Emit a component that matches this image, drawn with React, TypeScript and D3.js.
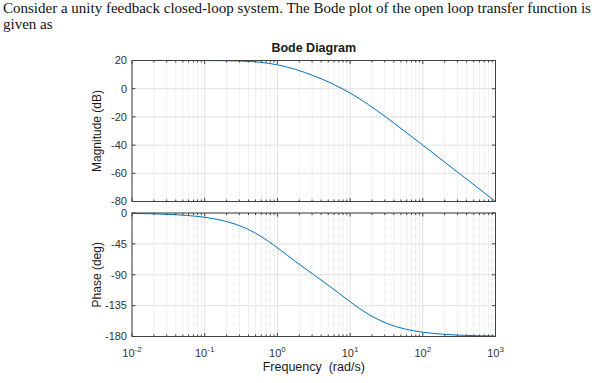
import React from "react";
import * as d3 from "d3";

const introLines = [
  "Consider a unity feedback closed-loop system. The Bode plot of the open loop transfer function is",
  "given as",
];
const title = "Bode Diagram";
const xLabel = "Frequency  (rad/s)";
const magLabel = "Magnitude (dB)";
const phaseLabel = "Phase (deg)";

const freq = [0.01, 0.01778, 0.03162, 0.05623, 0.1, 0.1778, 0.3162, 0.5623, 1, 1.778, 3.162, 5.623, 10, 17.78, 31.62, 56.23, 100, 177.8, 316.2, 562.3, 1000];
const magDb = [20.0, 20.0, 20.0, 19.99, 19.96, 19.86, 19.58, 18.79, 16.95, 13.67, 9.17, 3.67, -3.05, -11.21, -20.42, -30.14, -40.04, -50.01, -60.0, -70.0, -80.0];
const phaseDeg = [-0.63, -1.12, -1.99, -3.54, -6.28, -11.1, -19.36, -32.57, -50.71, -70.73, -90.0, -109.27, -129.29, -147.43, -160.64, -168.9, -173.72, -176.46, -178.01, -178.88, -179.37];

const magTicks = [20, 0, -20, -40, -60, -80];
const phaseTicks = [0, -45, -90, -135, -180];
const decadeExps = [-2, -1, 0, 1, 2, 3];

const W = 605, H = 383;
const X0 = 132, X1 = 495.5;
const MAG_T = 60.5, MAG_B = 201.5;
const PH_T = 213, PH_B = 336.5;

const x = d3.scaleLog().domain([0.01, 1000]).range([X0, X1]);
const yMag = d3.scaleLinear().domain([-80, 20]).range([MAG_B, MAG_T]);
const yPh = d3.scaleLinear().domain([-180, 0]).range([PH_B, PH_T]);

const minorFreqs: number[] = [];
decadeExps.slice(0, -1).forEach((e) => {
  for (let k = 2; k <= 9; k++) minorFreqs.push(k * Math.pow(10, e));
});

const BLUE = "#0072BD";
const AX = "#404040";
const GRID = "#e0e0e0";
const TXT = "#333333";
const sans = "'Liberation Sans', Arial, sans-serif";

function Panel({ y, ticks, top, bottom, values, showX }: any) {
  const line = d3
    .line<number>()
    .x((_, i) => x(freq[i]))
    .y((v) => y(v))
    .curve(d3.curveMonotoneX);
  const tl = 3.5;
  const tlMinor = 2;
  return (
    <g>
      {minorFreqs.map((f, i) => (
        <line key={"mg" + i} x1={x(f)} x2={x(f)} y1={top} y2={bottom} stroke={GRID} strokeDasharray="1,1" strokeWidth={1} />
      ))}
      {decadeExps.map((e) => (
        <line key={"dg" + e} x1={x(Math.pow(10, e))} x2={x(Math.pow(10, e))} y1={top} y2={bottom} stroke={GRID} strokeWidth={1} />
      ))}
      {ticks.map((t: number) => (
        <line key={"yg" + t} x1={X0} x2={X1} y1={y(t)} y2={y(t)} stroke={GRID} strokeWidth={1} />
      ))}
      <path d={line(values) || ""} fill="none" stroke={BLUE} strokeWidth={1} />
      <rect x={X0} y={top} width={X1 - X0} height={bottom - top} fill="none" stroke={AX} strokeWidth={1} />
      {minorFreqs.map((f, i) => (
        <g key={"mt" + i}>
          <line x1={x(f)} x2={x(f)} y1={bottom} y2={bottom - tlMinor} stroke={AX} />
          <line x1={x(f)} x2={x(f)} y1={top} y2={top + tlMinor} stroke={AX} />
        </g>
      ))}
      {decadeExps.map((e) => (
        <g key={"dt" + e}>
          <line x1={x(Math.pow(10, e))} x2={x(Math.pow(10, e))} y1={bottom} y2={bottom - tl} stroke={AX} />
          <line x1={x(Math.pow(10, e))} x2={x(Math.pow(10, e))} y1={top} y2={top + tl} stroke={AX} />
        </g>
      ))}
      {ticks.map((t: number) => (
        <g key={"yt" + t}>
          <line x1={X0} x2={X0 + tl} y1={y(t)} y2={y(t)} stroke={AX} />
          <line x1={X1} x2={X1 - tl} y1={y(t)} y2={y(t)} stroke={AX} />
          <text x={X0 - 5} y={y(t)} dy="0.35em" textAnchor="end" fontFamily={sans} fontSize={11} fill={TXT}>
            {t}
          </text>
        </g>
      ))}
      {showX &&
        decadeExps.map((e) => (
          <text key={"xl" + e} x={x(Math.pow(10, e))} y={bottom + 20.5} textAnchor="middle" fontFamily={sans} fontSize={11} fill={TXT}>
            10
            <tspan dy={-5} fontSize={8}>{e}</tspan>
          </text>
        ))}
    </g>
  );
}

export default function App() {
  const cx = (X0 + X1) / 2;
  return (
    <svg width={W} height={H} style={{ position: "absolute", left: 0, top: 0, background: "#fff" }}>
      <rect width={W} height={H} fill="#fff" />
      {introLines.map((t, i) => (
        <text key={i} x={3} y={13 + i * 16} fontFamily="'Liberation Serif', 'Times New Roman', serif" fontSize={15} fill="#111">
          {t}
        </text>
      ))}
      <text x={cx} y={52} textAnchor="middle" fontFamily={sans} fontWeight="bold" fontSize={12.5} fill="#1a1a1a">
        {title}
      </text>
      <Panel y={yMag} ticks={magTicks} top={MAG_T} bottom={MAG_B} values={magDb} showX={false} />
      <Panel y={yPh} ticks={phaseTicks} top={PH_T} bottom={PH_B} values={phaseDeg} showX={true} />
      <text x={cx} y={371} textAnchor="middle" fontFamily={sans} fontSize={12.5} fill="#1a1a1a" style={{ whiteSpace: "pre" }}>
        {xLabel}
      </text>
      <text transform={`translate(101,${(MAG_T + MAG_B) / 2}) rotate(-90)`} textAnchor="middle" fontFamily={sans} fontSize={12} fill="#1a1a1a">
        {magLabel}
      </text>
      <text transform={`translate(101,${(PH_T + PH_B) / 2}) rotate(-90)`} textAnchor="middle" fontFamily={sans} fontSize={12} fill="#1a1a1a">
        {phaseLabel}
      </text>
    </svg>
  );
}
